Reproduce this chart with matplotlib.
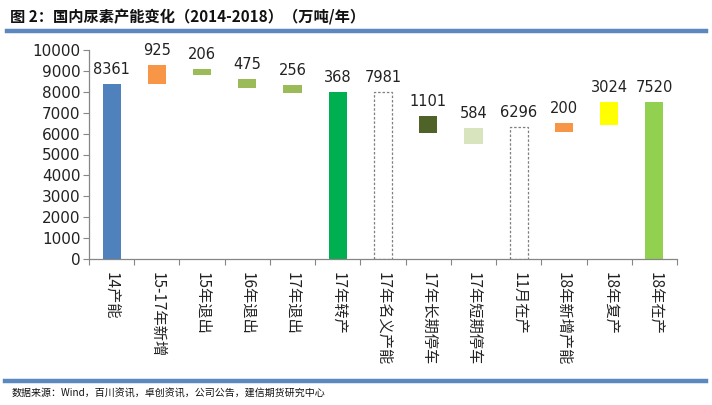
import matplotlib
matplotlib.use("Agg")
import matplotlib.pyplot as plt
from matplotlib.ticker import FixedLocator, MultipleLocator

# categories and the numbers printed above each bar
categories = ["14产能", "15-17年新增", "15年退出", "16年退出", "17年退出", "17年转产",
              "17年名义产能", "17年长期停车", "17年短期停车", "11月在产", "18年新增产能",
              "18年复产", "18年在产"]
labels = [8361, 925, 206, 475, 256, 368, 7981, 1101, 584, 6296, 200, 3024, 7520]
# bar extents as drawn in the source chart (万吨/年)
bar_bottom = [0, 8361, 8790, 8170, 7920, 0, 0, 6050, 5490, 0, 6080, 6420, 0]
bar_top = [8361, 9286, 9080, 8605, 8349, 7981, 7981, 6850, 6260, 6296, 6496, 7520, 7520]
colors = ["#4F81BD", "#F79646", "#9BBB59", "#9BBB59", "#9BBB59", "#00B050", "none",
          "#4F6228", "#D7E4BD", "none", "#F79646", "#FFFF00", "#92D050"]

CJK = ["Noto Sans CJK SC", "DejaVu Sans"]
BLUE = "#5B88BE"

fig = plt.figure(figsize=(7.12, 4.05), dpi=100)
ax = fig.add_axes([89 / 712, 1 - 259 / 405, (677 - 89) / 712, (259 - 50) / 405])

x = list(range(len(categories)))
heights = [t - b for t, b in zip(bar_top, bar_bottom)]
for i in x:
    if colors[i] == "none":
        ax.bar(i, heights[i], bottom=bar_bottom[i], width=0.4, facecolor="white",
               edgecolor="#7F7F7F", linestyle=(0, (2, 1.5)), linewidth=0.9, zorder=2)
    else:
        ax.bar(i, heights[i], bottom=bar_bottom[i], width=0.4, color=colors[i],
               linewidth=0, zorder=2)
    ax.annotate(str(labels[i]), (i, bar_top[i]), textcoords="offset pixels",
                xytext=(0, 7), ha="center", va="bottom", fontsize=10.5, color="#222222",
                family="DejaVu Sans")

ax.set_xlim(-0.5, len(categories) - 0.5)
ax.set_ylim(0, 10000)
ax.yaxis.set_major_locator(MultipleLocator(1000))
ax.tick_params(axis="y", length=4, width=0.8, color="#868686", labelsize=11,
               pad=2, labelcolor="#222222")
ax.set_xticks(x)
ax.set_xticklabels(categories, rotation=-90, ha="center", va="top", family=CJK,
                   fontsize=11, color="#222222")
ax.tick_params(axis="x", which="major", length=0, pad=9)
ax.xaxis.set_minor_locator(FixedLocator([i - 0.5 for i in range(len(categories) + 1)]))
ax.tick_params(axis="x", which="minor", length=4, width=0.8, color="#868686")
for s in ("top", "right"):
    ax.spines[s].set_visible(False)
for s in ("left", "bottom"):
    ax.spines[s].set_color("#868686")
    ax.spines[s].set_linewidth(0.9)

# title, rules and source line
fig.text(10 / 712, 1 - 16 / 405, "图 2：国内尿素产能变化（2014-2018）（万吨/年）",
         family=CJK, fontsize=11, fontweight="bold", va="center", ha="left", color="#111111")
fig.add_artist(plt.Line2D([7 / 712, 706 / 712], [1 - 30.5 / 405] * 2, color=BLUE, lw=3.2,
                          transform=fig.transFigure))
fig.add_artist(plt.Line2D([5 / 712, 706 / 712], [1 - 380.5 / 405] * 2, color=BLUE, lw=3.2,
                          transform=fig.transFigure))
fig.text(12 / 712, 1 - 393 / 405, "数据来源：Wind，百川资讯，卓创资讯，公司公告，建信期货研究中心",
         family=CJK, fontsize=7.2, va="center", ha="left", color="#111111")

fig.savefig("out.png", dpi=100)
